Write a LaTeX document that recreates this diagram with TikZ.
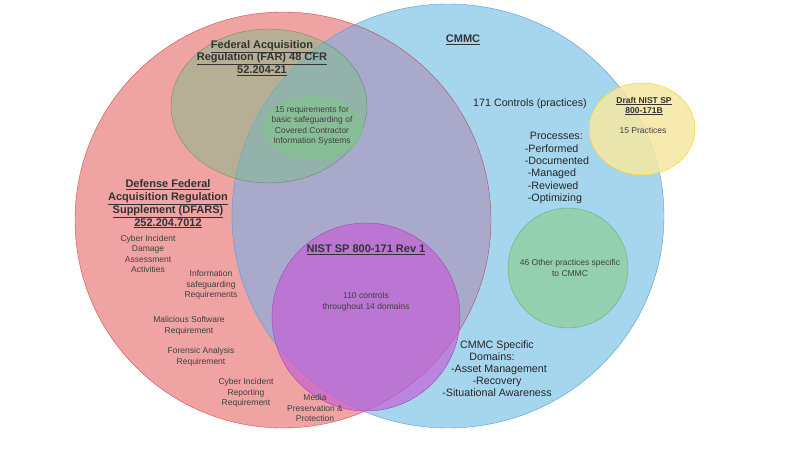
\documentclass[tikz,border=0pt]{standalone}
\usepackage{fontspec}
\setmainfont{Liberation Sans}
\definecolor{rf}{HTML}{EFA3A3}
\definecolor{bf}{HTML}{A6D6EE}
\definecolor{of}{HTML}{A9AACB}
\definecolor{pf}{HTML}{C65AD6}
\definecolor{gf}{HTML}{7FC98A}
\definecolor{yf}{HTML}{F6E7A2}
\begin{document}
\begin{tikzpicture}[x=1pt,y=-1pt,
  lbl/.style={align=center,font=\fontsize{8.5}{10.5}\selectfont,text=black!75},
  head/.style={align=center,font=\fontsize{11}{12.8}\selectfont\bfseries,text=black!80},
  big/.style={align=center,font=\fontsize{10.7}{12}\selectfont,text=black!85}]
\useasboundingbox[fill=white] (0,0) rectangle (800,450);
\fill[rf] (283,220) circle (208);
\fill[bf] (448,216) ellipse (216 and 212);
\begin{scope}
\clip (283,220) circle (208);
\fill[of] (448,216) ellipse (216 and 212);
\end{scope}
\draw[red!75!black,opacity=0.6] (283,220) circle (208);
\draw[cyan!60!blue!70] (448,216) ellipse (216 and 212);
\fill[gf!80!gray,opacity=0.5] (269,106) ellipse (98 and 77);
\draw[green!40!black,opacity=0.4] (269,106) ellipse (98 and 77);
\fill[gf,opacity=0.55] (313,128) ellipse (50 and 32);
\fill[pf,opacity=0.65] (366,317) circle (94);
\draw[pf!80!black] (366,317) circle (94);
\fill[gf!90,opacity=0.7] (568,268) circle (60);
\draw[green!50!black,opacity=0.4] (568,268) circle (60);
\fill[yf,opacity=0.85] (642,129) ellipse (53 and 46);
\draw[yellow!70!orange] (642,129) ellipse (53 and 46);
\node[head] (cmmc) at (463,40) {\underline{CMMC}};
\node[head] (far) at (262,58) {\underline{Federal Acquisition}\\\underline{Regulation (FAR) 48 CFR}\\\underline{52.204-21}};
\node[lbl] (far15) at (312,126) {15 requirements for\\basic safeguarding of\\Covered Contractor\\Information Systems};
\node[big] (c171) at (530,104) {171 Controls (practices)};
\node[font=\fontsize{8.5}{10}\selectfont\bfseries,align=center,text=black!80] (draft) at (644,106) {\underline{Draft NIST SP}\\\underline{800-171B}};
\node[lbl] (p15) at (643,130) {15 Practices};
\node[big,align=left,font=\fontsize{10.7}{12.3}\selectfont] (proc) at (557,168) {\hspace*{5pt}Processes:\\-Performed\\-Documented\\\hspace*{3pt}-Managed\\\hspace*{3pt}-Reviewed\\\hspace*{3pt}-Optimizing};
\node[head] (dfars) at (168,204) {\underline{Defense Federal}\\\underline{Acquisition Regulation}\\\underline{Supplement (DFARS)}\\\underline{252.204.7012}};
\node[lbl] (ci) at (148,254) {Cyber Incident\\Damage\\Assessment\\Activities};
\node[lbl] (is) at (211,285) {Information\\safeguarding\\Requirements};
\node[lbl] (ms) at (189,326) {Malicious Software\\Requirement};
\node[lbl] (fa) at (201,357) {Forensic Analysis\\Requirement};
\node[lbl] (cr) at (246,393) {Cyber Incident\\Reporting\\Requirement};
\node[lbl] (mp) at (315,408) {Media\\Preservation \&\\Protection};
\node[head] (nist) at (366,250) {\underline{NIST SP 800-171 Rev 1}};
\node[lbl] (c110) at (366,302) {110 controls\\throughout 14 domains};
\node[lbl] (o46) at (570,268) {46 Other practices specific\\to CMMC};
\node[big] (dom) at (497,369) {CMMC Specific\\\hspace*{-10pt}Domains:\\\hspace*{4pt}-Asset Management\\-Recovery\\-Situational Awareness};
\end{tikzpicture}
\end{document}
